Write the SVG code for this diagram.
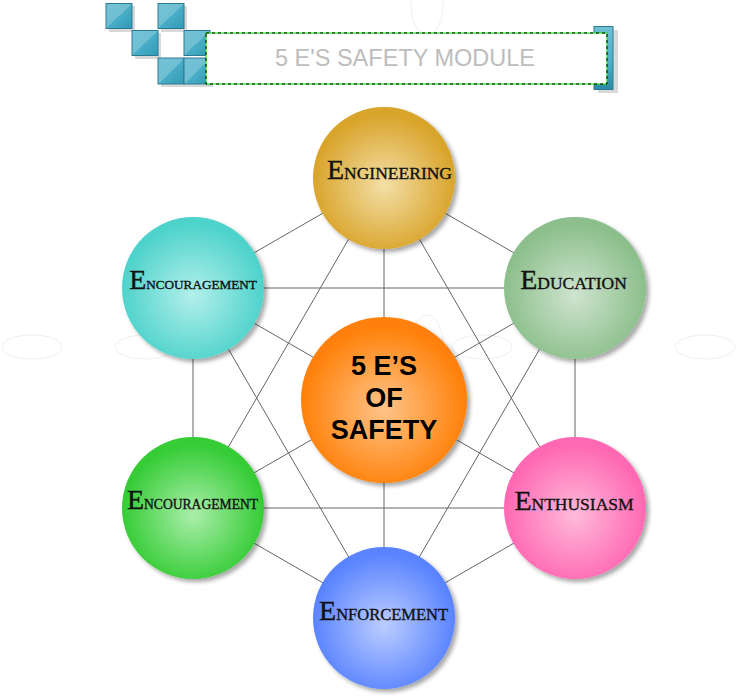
<svg xmlns="http://www.w3.org/2000/svg" width="736" height="700" viewBox="0 0 736 700">
<defs>
<style>
.edge{stroke:#666;stroke-width:1;fill:none}
.ghost{fill:none;stroke:#efefef;stroke-width:1}
.lbl{font-family:"Liberation Serif","Times New Roman",serif;fill:#111;stroke:#111;stroke-width:0.35;text-anchor:middle}
.big{font-size:28px}
.ctr{font-family:"Liberation Sans",Arial,sans-serif;font-weight:bold;font-size:27px;fill:#000;text-anchor:middle}
.sq{stroke:#2c7a90;stroke-width:1}
.sqs{fill:#d9d9d9}
</style>
<filter id="sh" x="-20%" y="-20%" width="150%" height="150%">
<feDropShadow dx="3" dy="3" stdDeviation="2" flood-color="#000" flood-opacity="0.35"/>
</filter>
<radialGradient id="gEng" cx="0.5" cy="0.55" r="0.5"><stop offset="0" stop-color="#f3dfa6"/><stop offset="1" stop-color="#d9a42b"/></radialGradient>
<radialGradient id="gEncT" cx="0.5" cy="0.55" r="0.5"><stop offset="0" stop-color="#b3efeb"/><stop offset="1" stop-color="#4ed3cb"/></radialGradient>
<radialGradient id="gEdu" cx="0.5" cy="0.55" r="0.5"><stop offset="0" stop-color="#cfe4cf"/><stop offset="1" stop-color="#8cbf8c"/></radialGradient>
<radialGradient id="gCtr" cx="0.5" cy="0.55" r="0.5"><stop offset="0" stop-color="#ffc489"/><stop offset="1" stop-color="#ff8008"/></radialGradient>
<radialGradient id="gEncB" cx="0.5" cy="0.55" r="0.5"><stop offset="0" stop-color="#aaeeaa"/><stop offset="1" stop-color="#35cc35"/></radialGradient>
<radialGradient id="gEnt" cx="0.5" cy="0.55" r="0.5"><stop offset="0" stop-color="#ffbadb"/><stop offset="1" stop-color="#ff68b2"/></radialGradient>
<radialGradient id="gEnf" cx="0.5" cy="0.55" r="0.5"><stop offset="0" stop-color="#bccdff"/><stop offset="1" stop-color="#5a84ff"/></radialGradient>
<linearGradient id="gSq" x1="0" y1="0" x2="1" y2="1"><stop offset="0" stop-color="#74c2d6"/><stop offset="0.5" stop-color="#6fbfd3"/><stop offset="0.5" stop-color="#4aaec8"/><stop offset="1" stop-color="#2f9ab6"/></linearGradient>
<linearGradient id="gBar" x1="0" y1="0" x2="0" y2="1"><stop offset="0" stop-color="#6fc0d4"/><stop offset="0.6" stop-color="#4aaec8"/><stop offset="1" stop-color="#2a8aa3"/></linearGradient>
</defs>

<g id="background">
<ellipse class="ghost" cx="32" cy="347" rx="30" ry="12"/>
<ellipse class="ghost" cx="145" cy="347" rx="30" ry="12"/>
<ellipse class="ghost" cx="705" cy="347" rx="30" ry="12"/>
<ellipse class="ghost" cx="482" cy="347" rx="30" ry="12"/>
<ellipse class="ghost" cx="427" cy="5" rx="16" ry="30"/>
<ellipse class="ghost" cx="427" cy="345" rx="16" ry="30"/>
</g>

<g id="header">
<g id="squares">
<rect class="sqs" x="109" y="6" width="26" height="26"/>
<rect class="sqs" x="161" y="6" width="26" height="26"/>
<rect class="sqs" x="135" y="33" width="26" height="26"/>
<rect class="sqs" x="161" y="61" width="26" height="26"/>
<rect class="sqs" x="187" y="61" width="26" height="26"/>
<rect class="sq" x="106" y="3.5" width="26" height="25" fill="url(#gSq)"/>
<rect class="sq" x="158" y="3.5" width="26" height="25" fill="url(#gSq)"/>
<rect class="sq" x="132" y="30.5" width="26" height="25" fill="url(#gSq)"/>
<rect class="sq" x="184" y="30.5" width="26" height="25" fill="url(#gSq)"/>
<rect class="sq" x="158" y="58" width="26" height="26" fill="url(#gSq)"/>
<rect class="sq" x="184" y="58" width="26" height="26" fill="url(#gSq)"/>
</g>
<rect x="598" y="30" width="20" height="63" fill="#d9d9d9"/>
<rect id="bar" x="594" y="26.5" width="19" height="63" fill="url(#gBar)" stroke="#2c7a90" stroke-width="1"/>
<g id="title">
<rect x="206" y="33" width="401" height="51" fill="#fff" stroke="#22dd22" stroke-width="1.2"/>
<rect x="206" y="33" width="401" height="51" fill="none" stroke="#000" stroke-width="1" stroke-dasharray="3 3"/>
<text x="405" y="66" font-family="'Liberation Sans',Arial,sans-serif" font-size="23.5" fill="#bdbdbd" text-anchor="middle">5 E'S SAFETY MODULE</text>
</g>
</g>

<g id="connectors">
<line class="edge" x1="384" y1="178" x2="193" y2="288"/>
<line class="edge" x1="384" y1="178" x2="575" y2="288"/>
<line class="edge" x1="384" y1="178" x2="193" y2="508"/>
<line class="edge" x1="384" y1="178" x2="575" y2="508"/>
<line class="edge" x1="384" y1="178" x2="384" y2="618"/>
<line class="edge" x1="193" y1="288" x2="575" y2="288"/>
<line class="edge" x1="193" y1="288" x2="193" y2="508"/>
<line class="edge" x1="193" y1="288" x2="575" y2="508"/>
<line class="edge" x1="193" y1="288" x2="384" y2="618"/>
<line class="edge" x1="575" y1="288" x2="193" y2="508"/>
<line class="edge" x1="575" y1="288" x2="575" y2="508"/>
<line class="edge" x1="575" y1="288" x2="384" y2="618"/>
<line class="edge" x1="193" y1="508" x2="575" y2="508"/>
<line class="edge" x1="193" y1="508" x2="384" y2="618"/>
<line class="edge" x1="575" y1="508" x2="384" y2="618"/>
</g>

<g id="engineering">
<circle cx="384" cy="178" r="71" fill="url(#gEng)" filter="url(#sh)"/>
<text class="lbl" x="389.5" y="179"><tspan class="big">E</tspan><tspan font-size="17.5">NGINEERING</tspan></text>
</g>
<g id="encouragement-top">
<circle cx="193" cy="288" r="71" fill="url(#gEncT)" filter="url(#sh)"/>
<text class="lbl" x="193" y="289"><tspan class="big">E</tspan><tspan font-size="13.2">NCOURAGEMENT</tspan></text>
</g>
<g id="education">
<circle cx="575" cy="288" r="71" fill="url(#gEdu)" filter="url(#sh)"/>
<text class="lbl" x="573.5" y="289"><tspan class="big">E</tspan><tspan font-size="17.5">DUCATION</tspan></text>
</g>
<g id="center">
<circle cx="384" cy="400" r="83" fill="url(#gCtr)" filter="url(#sh)"/>
<text class="ctr" x="384" y="375">5 E’S</text>
<text class="ctr" x="384" y="407">OF</text>
<text class="ctr" x="384" y="439">SAFETY</text>
</g>
<g id="encouragement-bottom">
<circle cx="193" cy="508" r="71" fill="url(#gEncB)" filter="url(#sh)"/>
<text class="lbl" x="192.5" y="509"><tspan class="big">E</tspan><tspan font-size="13.6">NCOURAGEMENT</tspan></text>
</g>
<g id="enthusiasm">
<circle cx="575" cy="508" r="71" fill="url(#gEnt)" filter="url(#sh)"/>
<text class="lbl" x="574" y="510"><tspan class="big">E</tspan><tspan font-size="17.5">NTHUSIASM</tspan></text>
</g>
<g id="enforcement">
<circle cx="384" cy="618" r="71" fill="url(#gEnf)" filter="url(#sh)"/>
<text class="lbl" x="383.5" y="620"><tspan class="big">E</tspan><tspan font-size="16.5">NFORCEMENT</tspan></text>
</g>
</svg>
